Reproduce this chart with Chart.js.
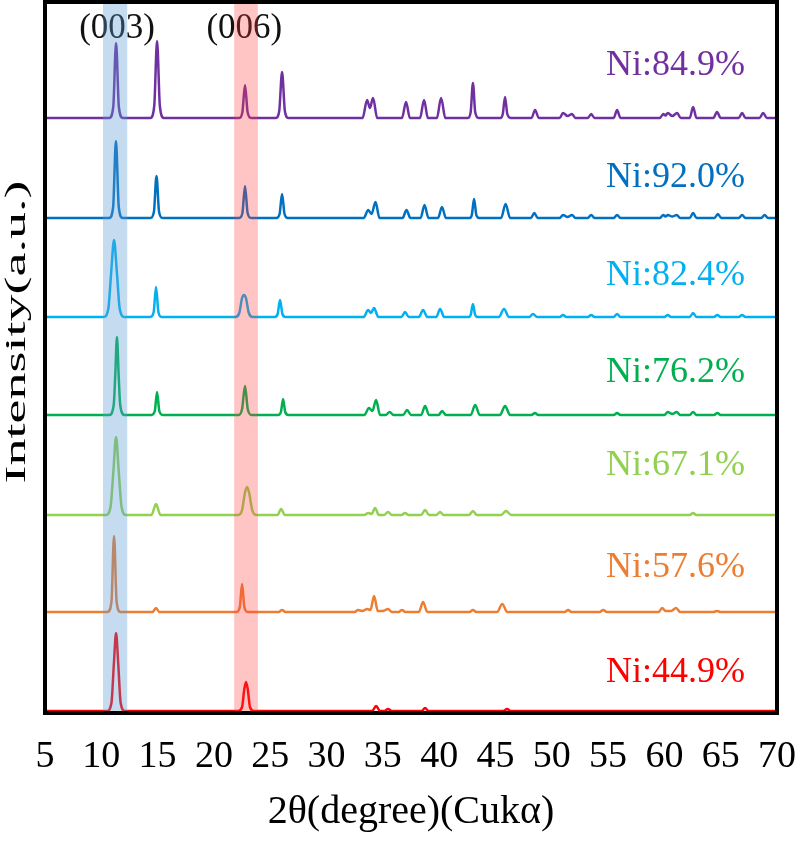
<!DOCTYPE html>
<html lang="en">
<head>
    <meta charset="UTF-8">
    <title>XRD patterns</title>
    <script src="https://cdn.jsdelivr.net/npm/chart.js"></script>
    <style>
        body { margin: 0; background: #fff; }
        #xrd { display: block; }
    </style>
</head>
<body>
    <canvas id="xrd" width="797" height="842"></canvas>
    <script>
        // Sample names and line colours (top to bottom)
        const sampleNames = ['Ni:84.9%', 'Ni:92.0%', 'Ni:82.4%', 'Ni:76.2%', 'Ni:67.1%', 'Ni:57.6%', 'Ni:44.9%'];
        const sampleColors = ['#7030a0', '#0070c0', '#00b0f0', '#00b050', '#92d050', '#ed7d31', '#ff0000'];
        // vertical offset of each pattern (a.u.)
        const offsets = [595, 495, 396, 298, 198, 101, 2];

        // [2theta, intensity]
        const ni849 = [
            [5, 0], [10.7, 0], [11.06, 11], [11.31, 75], [11.56, 11], [11.92, 0],
            [14.35, 0], [14.7, 12], [14.95, 77], [15.2, 12], [15.55, 0],
            [22.25, 0], [22.53, 6], [22.76, 33], [22.99, 6], [23.3, 0],
            [25.5, 0], [25.8, 7], [26.05, 46], [26.3, 7], [26.6, 0],
            [33.2, 0], [33.6, 18], [33.85, 10], [34.13, 20], [34.5, 0],
            [36.7, 0], [37.06, 16], [37.4, 0],
            [38.3, 0], [38.66, 18], [39.0, 0],
            [39.8, 0], [40.17, 20], [40.55, 0],
            [42.55, 0], [42.8, 6], [43.0, 35], [43.2, 6], [43.5, 0],
            [45.45, 0], [45.65, 4], [45.85, 21], [46.05, 4], [46.35, 0],
            [48.2, 0], [48.52, 8], [48.85, 0],
            [50.7, 0], [51.0, 5], [51.4, 2], [51.8, 4], [52.1, 0],
            [53.2, 0], [53.5, 4], [53.8, 0],
            [55.5, 0], [55.8, 8], [56.1, 0],
            [59.6, 0], [59.9, 4], [60.1, 2.5], [60.3, 5], [60.7, 2], [61.13, 5], [61.45, 0],
            [62.25, 0], [62.55, 11], [62.85, 0],
            [64.35, 0], [64.67, 6], [65.0, 0],
            [66.6, 0], [66.9, 5], [67.2, 0],
            [68.45, 0], [68.77, 5], [69.1, 0], [70, 0]
        ];
        const ni920 = [
            [5, 0], [10.7, 0], [11.05, 11], [11.3, 77], [11.55, 11], [11.9, 0],
            [14.35, 0], [14.67, 6], [14.9, 42], [15.13, 6], [15.45, 0],
            [22.25, 0], [22.53, 5], [22.76, 32], [22.99, 5], [23.3, 0],
            [25.55, 0], [25.83, 4], [26.05, 24], [26.27, 4], [26.55, 0],
            [33.3, 0], [33.7, 8], [34.0, 4], [34.35, 16], [34.7, 0],
            [36.75, 0], [37.1, 8], [37.45, 0],
            [38.35, 0], [38.7, 13], [39.05, 0],
            [39.9, 0], [40.25, 11], [40.6, 0],
            [42.7, 0], [42.9, 3], [43.1, 19], [43.3, 3], [43.55, 0],
            [45.5, 0], [45.9, 14], [46.3, 0],
            [48.15, 0], [48.45, 5], [48.75, 0],
            [50.7, 0], [51.0, 3], [51.4, 1], [51.8, 3], [52.1, 0],
            [53.2, 0], [53.5, 3], [53.8, 0],
            [55.5, 0], [55.8, 3], [56.1, 0],
            [59.6, 0], [59.9, 3], [60.1, 1.5], [60.3, 3], [60.7, 1.5], [61.1, 3], [61.4, 0],
            [62.25, 0], [62.55, 5], [62.85, 0],
            [64.45, 0], [64.75, 4], [65.05, 0],
            [66.6, 0], [66.9, 3], [67.2, 0],
            [68.6, 0], [68.9, 3], [69.2, 0], [70, 0]
        ];
        const ni824 = [
            [5, 0], [10.2, 0], [10.62, 8], [10.88, 45], [11.13, 77], [11.38, 45], [11.64, 8], [12.05, 0],
            [14.35, 0], [14.65, 5], [14.86, 30], [15.07, 5], [15.35, 0],
            [21.9, 0], [22.25, 4], [22.5, 19], [22.67, 22], [22.84, 19], [23.1, 4], [23.45, 0],
            [25.4, 0], [25.66, 3], [25.87, 17], [26.08, 3], [26.35, 0],
            [33.3, 0], [33.69, 7], [33.95, 4], [34.22, 9], [34.6, 0],
            [36.65, 0], [36.97, 5], [37.3, 0],
            [38.2, 0], [38.57, 7], [38.95, 0],
            [39.75, 0], [40.08, 8], [40.45, 0],
            [42.6, 0], [42.8, 2], [43.0, 13], [43.2, 2], [43.45, 0],
            [45.3, 0], [45.76, 8], [46.2, 0],
            [48.0, 0], [48.34, 3], [48.7, 0],
            [50.7, 0], [51.0, 2], [51.3, 0],
            [53.2, 0], [53.5, 2], [53.8, 0],
            [55.5, 0], [55.8, 3], [56.1, 0],
            [60.0, 0], [60.3, 2], [60.6, 0],
            [62.25, 0], [62.55, 4], [62.85, 0],
            [64.4, 0], [64.7, 2], [65.0, 0],
            [66.6, 0], [66.9, 2], [67.2, 0], [70, 0]
        ];
        const ni762 = [
            [5, 0], [10.7, 0], [11.1, 10], [11.24, 40], [11.39, 78], [11.54, 40], [11.68, 10], [12.05, 0],
            [14.45, 0], [14.75, 4], [14.95, 23], [15.15, 4], [15.45, 0],
            [22.2, 0], [22.5, 6], [22.76, 29], [23.0, 6], [23.35, 0],
            [25.7, 0], [25.95, 3], [26.14, 16], [26.33, 3], [26.6, 0],
            [33.35, 0], [33.77, 7], [34.07, 4], [34.4, 15], [34.75, 0],
            [35.25, 0], [35.6, 3], [35.95, 0],
            [36.8, 0], [37.15, 5], [37.5, 0],
            [38.4, 0], [38.75, 9], [39.1, 0],
            [39.95, 0], [40.26, 4], [40.6, 0],
            [42.8, 0], [43.2, 10], [43.6, 0],
            [45.4, 0], [45.85, 9], [46.3, 0],
            [48.2, 0], [48.5, 2], [48.8, 0],
            [55.5, 0], [55.8, 2], [56.1, 0],
            [60.0, 0], [60.3, 3], [60.7, 1], [61.1, 3], [61.4, 0],
            [62.25, 0], [62.55, 3], [62.85, 0],
            [64.4, 0], [64.7, 2], [65.0, 0], [70, 0]
        ];
        const ni671 = [
            [5, 0], [10.4, 0], [10.82, 8], [11.08, 45], [11.31, 78], [11.54, 45], [11.8, 8], [12.2, 0],
            [14.45, 0], [14.86, 11], [15.25, 0],
            [22.15, 0], [22.5, 5], [22.75, 22], [22.94, 28], [23.13, 22], [23.4, 5], [23.75, 0],
            [25.65, 0], [25.96, 6], [26.3, 0],
            [33.35, 0], [33.7, 2], [34.0, 1], [34.31, 7], [34.65, 0],
            [35.1, 0], [35.46, 3], [35.8, 0],
            [36.65, 0], [36.97, 2], [37.3, 0],
            [38.4, 0], [38.75, 5], [39.1, 0],
            [39.75, 0], [40.08, 3], [40.4, 0],
            [42.65, 0], [43.0, 4], [43.35, 0],
            [45.5, 0], [45.94, 4], [46.4, 0],
            [62.25, 0], [62.55, 2], [62.85, 0], [70, 0]
        ];
        const ni576 = [
            [5, 0], [10.55, 0], [10.9, 10], [11.13, 76], [11.36, 10], [11.7, 0],
            [14.55, 0], [14.86, 4], [15.15, 0],
            [22.0, 0], [22.3, 5], [22.5, 28], [22.7, 5], [23.0, 0],
            [25.75, 0], [26.05, 2], [26.35, 0],
            [32.5, 0], [32.8, 2], [33.2, 1], [33.6, 3], [33.9, 2], [34.22, 16], [34.55, 1], [35.0, 1], [35.46, 3], [35.8, 0],
            [36.4, 0], [36.7, 2], [37.0, 0],
            [38.2, 0], [38.57, 10], [38.95, 0],
            [42.7, 0], [43.0, 2], [43.3, 0],
            [45.15, 0], [45.6, 8], [46.05, 0],
            [51.15, 0], [51.45, 2], [51.75, 0],
            [54.25, 0], [54.56, 2], [54.9, 0],
            [59.5, 0], [59.8, 4], [60.1, 1], [60.6, 1], [61.04, 4], [61.4, 0],
            [64.35, 0], [64.67, 1], [65.0, 0], [70, 0]
        ];
        const ni449 = [
            [5, 0], [10.5, 0], [10.9, 8], [11.12, 48], [11.31, 78], [11.5, 48], [11.72, 8], [12.1, 0],
            [22.15, 0], [22.5, 4], [22.7, 22], [22.85, 29], [23.0, 22], [23.2, 4], [23.55, 0],
            [34.05, 0], [34.4, 5], [34.75, 0],
            [35.15, 0], [35.46, 2], [35.8, 0],
            [38.45, 0], [38.75, 3], [39.05, 0],
            [45.7, 0], [46.03, 2], [46.35, 0], [70, 0]
        ];
        const patterns = [ni849, ni920, ni824, ni762, ni671, ni576, ni449];

        // shaded reflections: (003) and (006)
        const bandRanges = [[10.15, 12.3], [21.8, 23.9]];
        const bandLabels = ['(003)', '(006)'];
        const bandLabelPos = [11.4, 22.7];
        const xTicks = [5, 10, 15, 20, 25, 30, 35, 40, 45, 50, 55, 60, 65, 70];

        const serif = "'Liberation Serif', 'Times New Roman', serif";
        const labelBase = [75, 187, 285, 382, 475, 577, 682];

        const datasets = patterns.map((pts, i) => ({
            label: sampleNames[i],
            data: pts.map(p => ({ x: p[0], y: p[1] + offsets[i] })),
            borderColor: sampleColors[i],
            borderWidth: 2.5,
            pointRadius: 0,
            cubicInterpolationMode: 'monotone',
            fill: false
        }));

        const decorations = {
            id: 'decorations',
            beforeDatasetsDraw(chart) {
                const { ctx, scales: { x } } = chart;
                ctx.save();
                ctx.fillStyle = '#111';
                ctx.font = '35px ' + serif;
                ctx.textAlign = 'center';
                ctx.textBaseline = 'alphabetic';
                bandLabels.forEach((t, i) => ctx.fillText(t, x.getPixelForValue(bandLabelPos[i]), 38));
                ctx.restore();
            },
            afterDatasetsDraw(chart) {
                const { ctx, chartArea: a, scales: { x } } = chart;
                ctx.save();
                // plot frame
                ctx.strokeStyle = '#000';
                ctx.lineWidth = 4;
                ctx.strokeRect(a.left, a.top, a.right - a.left, a.bottom - a.top);
                // translucent bands drawn over the patterns
                const fills = ['rgba(91,155,213,0.36)', 'rgba(255,60,60,0.30)'];
                bandRanges.forEach((r, i) => {
                    const x0 = x.getPixelForValue(r[0]);
                    const x1 = x.getPixelForValue(r[1]);
                    ctx.fillStyle = fills[i];
                    ctx.fillRect(x0, a.top + 2, x1 - x0, a.bottom - a.top - 4);
                });
                ctx.restore();
            },
            afterDraw(chart) {
                const { ctx } = chart;
                ctx.save();
                ctx.font = '36px ' + serif;
                ctx.textAlign = 'right';
                ctx.textBaseline = 'alphabetic';
                sampleNames.forEach((t, i) => {
                    ctx.fillStyle = sampleColors[i];
                    ctx.fillText(t, 745, labelBase[i]);
                });
                // y axis title (tall, narrow lettering as in the original)
                ctx.translate(17, 332);
                ctx.rotate(-Math.PI / 2);
                ctx.scale(1.8, 1);
                ctx.fillStyle = '#000';
                ctx.font = '30px ' + serif;
                ctx.textAlign = 'center';
                ctx.textBaseline = 'middle';
                ctx.fillText('Intensity(a.u.)', 0, 0);
                ctx.restore();
            }
        };

        new Chart(document.getElementById('xrd'), {
            type: 'line',
            data: { datasets },
            options: {
                responsive: false,
                animation: false,
                devicePixelRatio: 1,
                layout: { padding: { left: 0, right: 20, top: 2, bottom: 0 } },
                plugins: { legend: { display: false }, tooltip: { enabled: false } },
                scales: {
                    x: {
                        type: 'linear',
                        min: 5,
                        max: 70,
                        grid: { display: false, drawTicks: false },
                        border: { display: false },
                        afterBuildTicks: s => { s.ticks = xTicks.map(v => ({ value: v })); },
                        afterFit: s => {
                            s.height = 129;
                            s.paddingLeft = 0;
                            s.paddingRight = 0;
                        },
                        ticks: { color: '#000', padding: 21, font: { family: serif, size: 38 } },
                        title: {
                            display: true,
                            text: '2θ(degree)(Cukα)',
                            color: '#000',
                            padding: { top: 4, bottom: 6 },
                            font: { family: serif, size: 40 }
                        }
                    },
                    y: {
                        min: 0,
                        max: 711,
                        grid: { display: false, drawTicks: false },
                        border: { display: false },
                        ticks: { display: false },
                        afterFit: s => { s.width = 45; }
                    }
                }
            },
            plugins: [decorations]
        });
    </script>
</body>
</html>
